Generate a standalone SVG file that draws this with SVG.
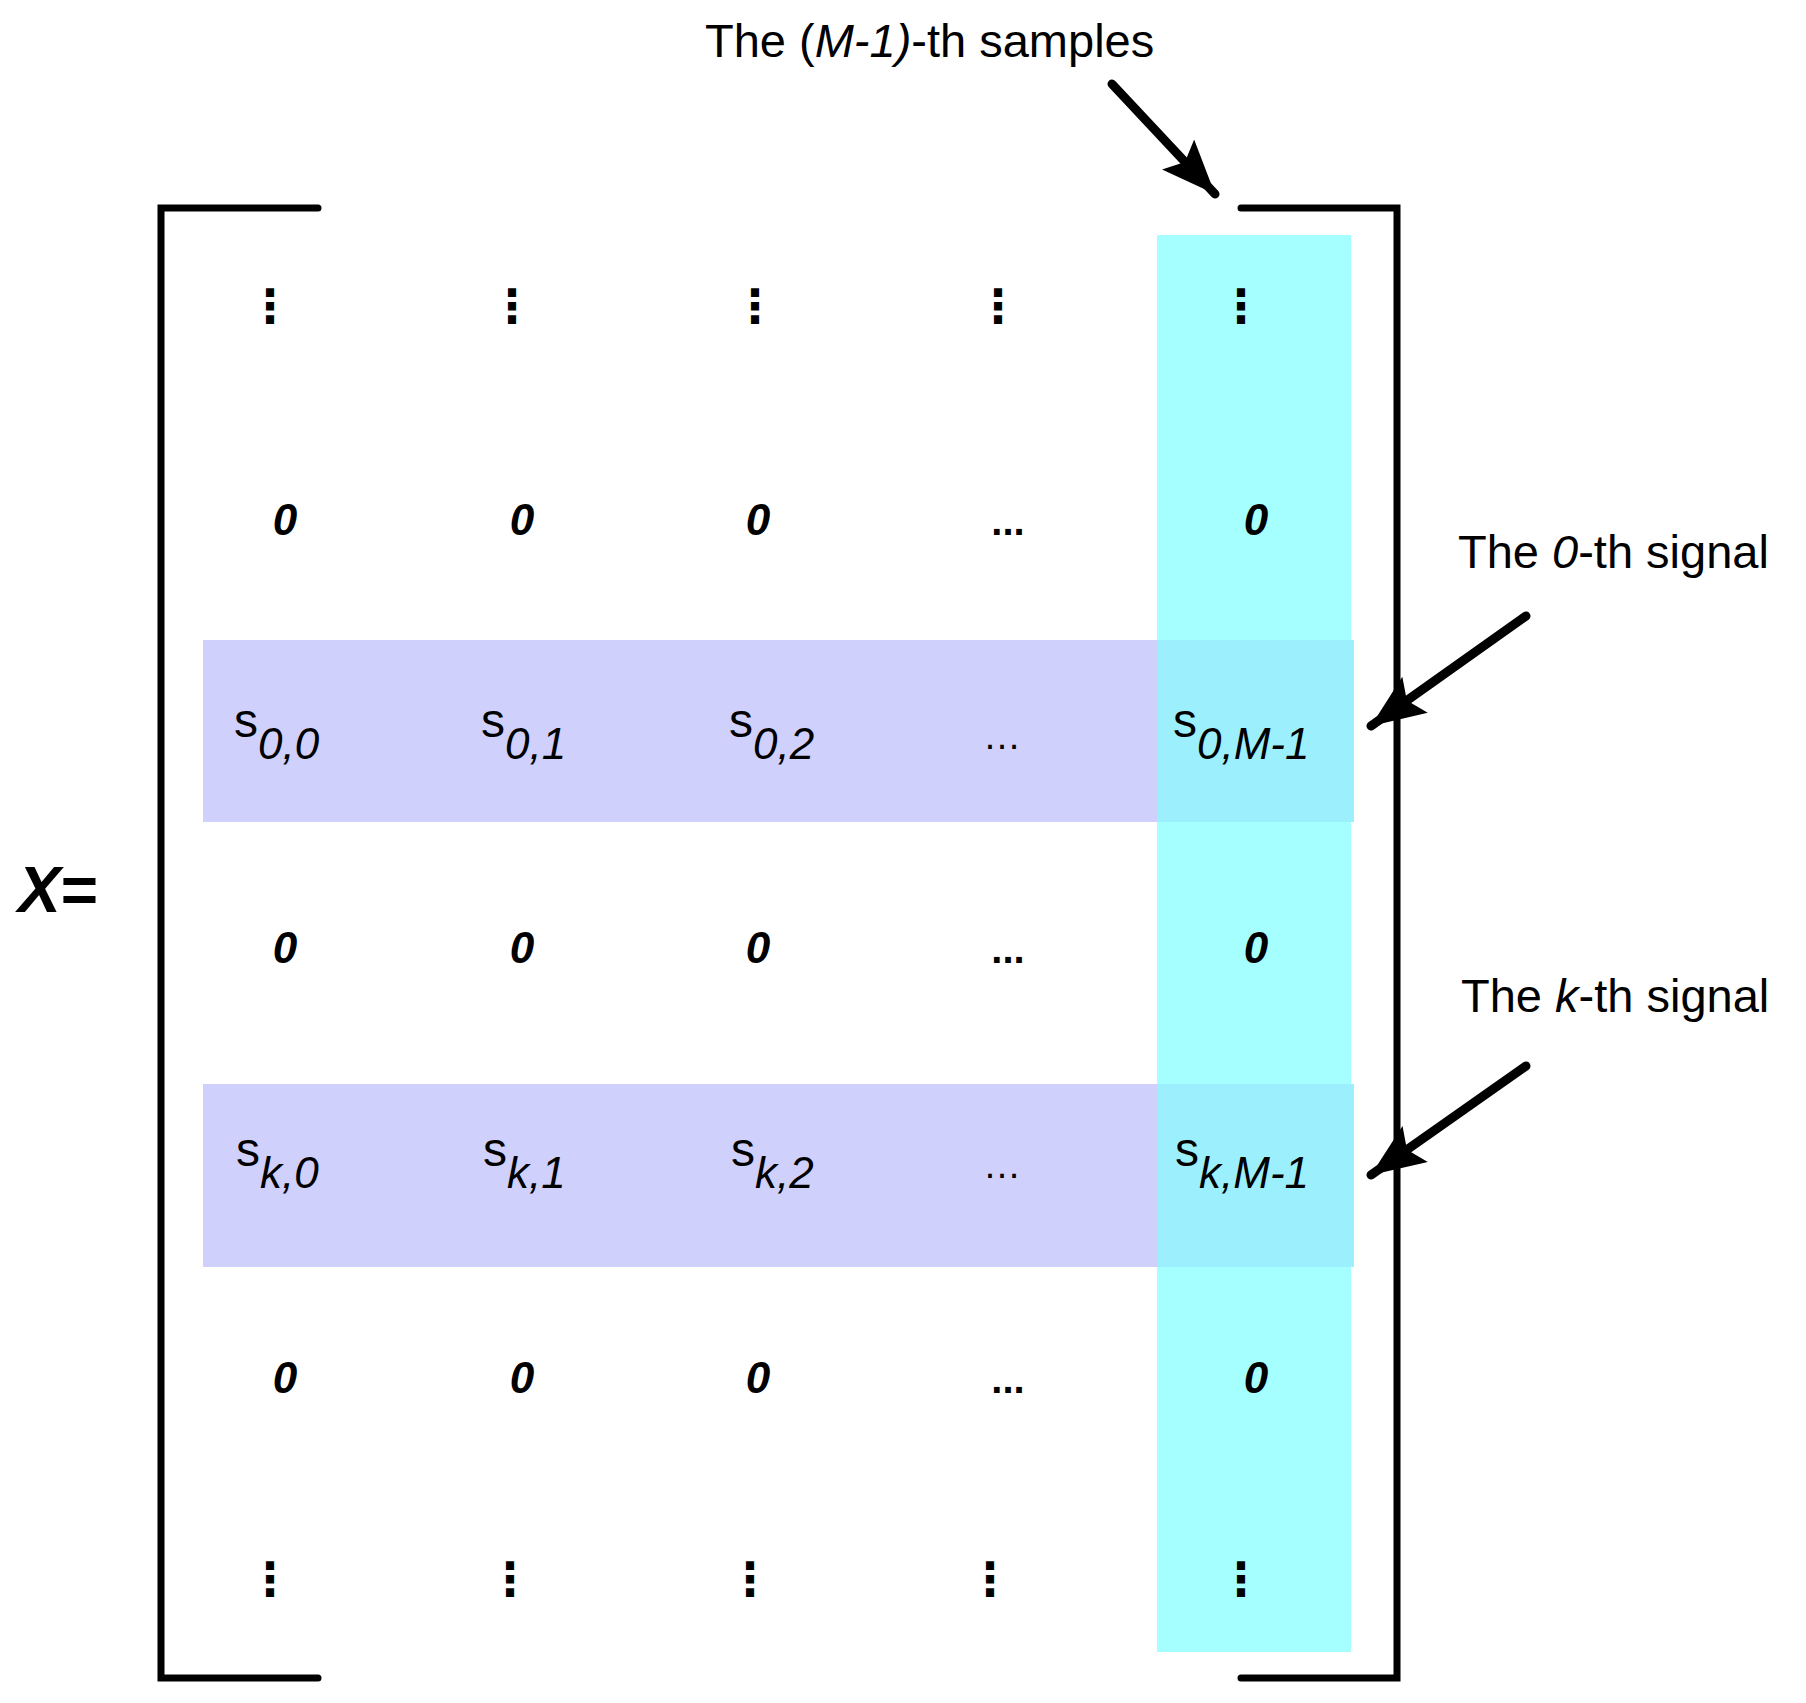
<svg xmlns="http://www.w3.org/2000/svg" width="1806" height="1703" viewBox="0 0 1806 1703">
<style>
.br{fill:none;stroke:#000;stroke-width:7;stroke-linecap:round}
.z{font-family:"Liberation Sans",Arial,sans-serif;font-weight:bold;font-style:italic;font-size:44px;text-anchor:middle}
.el{font-family:"Liberation Sans",Arial,sans-serif;font-weight:bold;font-size:40px;text-anchor:middle}
.el2{font-family:"Liberation Sans",Arial,sans-serif;font-size:38px;text-anchor:middle}
.v{font-family:"DejaVu Sans",sans-serif;font-weight:bold;font-size:46px;text-anchor:middle}
.s{font-family:"Liberation Sans",Arial,sans-serif;font-size:48px}
.sub{font-style:italic;font-size:44px}
.lab{font-family:"Liberation Sans",Arial,sans-serif;font-size:47px}
.ar{stroke:#000;stroke-width:9;stroke-linecap:round;fill:none}
</style>
<defs>
<marker id="ah" markerUnits="userSpaceOnUse" markerWidth="60" markerHeight="50" refX="54" refY="22" orient="auto"><path d="M0,0 L54,22 L0,44 L10,22 Z" fill="#000"/></marker>
</defs>
<rect width="1806" height="1703" fill="#fff"/>
<g id="highlights">
<rect x="1157" y="235" width="194" height="1417" fill="#a6ffff"/>
<rect x="203" y="640" width="954" height="182" fill="#d0d0fc"/>
<rect x="203" y="1084" width="954" height="183" fill="#d0d0fc"/>
<rect x="1157" y="640" width="197" height="182" fill="#9cf0fd"/>
<rect x="1157" y="1084" width="197" height="183" fill="#9cf0fd"/>
</g>
<g id="brackets">
<path class="br" d="M318,208 H161 V1678 H318"/>
<path class="br" d="M1241,208 H1397 V1678 H1241"/>
</g>
<g id="matrix">
<text class="v" x="270" y="322">⋮</text><text class="v" x="512" y="322">⋮</text><text class="v" x="755" y="322">⋮</text><text class="v" x="998" y="322">⋮</text><text class="v" x="1241" y="322">⋮</text>
<text class="z" x="285" y="535">0</text><text class="z" x="522" y="535">0</text><text class="z" x="758" y="535">0</text><text class="el" x="1008" y="535">...</text><text class="z" x="1256" y="535">0</text>
<text class="s" x="234" y="737">s<tspan class="sub" dy="22">0,0</tspan></text>
<text class="s" x="481" y="737">s<tspan class="sub" dy="22">0,1</tspan></text>
<text class="s" x="729" y="737">s<tspan class="sub" dy="22">0,2</tspan></text>
<text class="el2" x="1002" y="749">…</text>
<text class="s" x="1173" y="737">s<tspan class="sub" dy="22">0,M-1</tspan></text>
<text class="z" x="285" y="963">0</text><text class="z" x="522" y="963">0</text><text class="z" x="758" y="963">0</text><text class="el" x="1008" y="963">...</text><text class="z" x="1256" y="963">0</text>
<text class="s" x="236" y="1166">s<tspan class="sub" dy="22">k,0</tspan></text>
<text class="s" x="483" y="1166">s<tspan class="sub" dy="22">k,1</tspan></text>
<text class="s" x="731" y="1166">s<tspan class="sub" dy="22">k,2</tspan></text>
<text class="el2" x="1002" y="1178">…</text>
<text class="s" x="1175" y="1166">s<tspan class="sub" dy="22">k,M-1</tspan></text>
<text class="z" x="285" y="1393">0</text><text class="z" x="522" y="1393">0</text><text class="z" x="758" y="1393">0</text><text class="el" x="1008" y="1393">...</text><text class="z" x="1256" y="1393">0</text>
<text class="v" x="270" y="1595">⋮</text><text class="v" x="510" y="1595">⋮</text><text class="v" x="750" y="1595">⋮</text><text class="v" x="990" y="1595">⋮</text><text class="v" x="1241" y="1595">⋮</text>
</g>
<g id="xlabel"><text x="18" y="912" font-family="Liberation Sans,Arial,sans-serif" font-weight="bold" font-size="64"><tspan font-style="italic">X</tspan>=</text></g>
<g id="labels">
<text class="lab" x="705" y="57">The (<tspan font-style="italic">M-1)</tspan>-th samples</text>
<text class="lab" x="1458" y="568">The <tspan font-style="italic">0</tspan>-th signal</text>
<text class="lab" x="1461" y="1012">The <tspan font-style="italic">k</tspan>-th signal</text>
</g>
<g id="connectors">
<line class="ar" x1="1112" y1="84" x2="1215" y2="194" marker-end="url(#ah)"/>
<line class="ar" x1="1526" y1="616" x2="1371" y2="726" marker-end="url(#ah)"/>
<line class="ar" x1="1526" y1="1066" x2="1371" y2="1175" marker-end="url(#ah)"/>
</g>
</svg>
